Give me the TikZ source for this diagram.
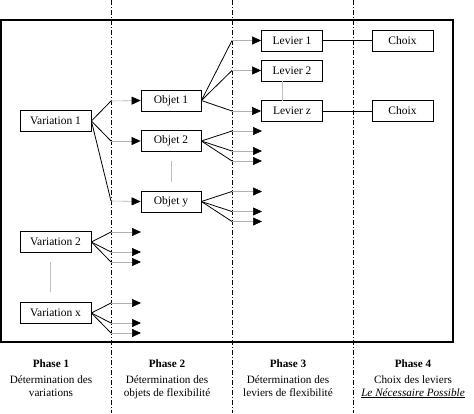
\documentclass[tikz,border=0pt]{standalone}
\usepackage{fontspec}
\setmainfont{Liberation Serif}
\usetikzlibrary{arrows.meta, positioning}

\begin{document}
\begin{tikzpicture}[x=1pt, y=-1pt,
    box/.style={draw, rectangle, inner sep=0pt, minimum height=21pt, line width=0.8pt, font=\fontsize{11.5}{12}\selectfont},
    phaseline/.style={line width=1pt, dash pattern=on 5pt off 2pt on 1pt off 2pt},
    fan/.style={line width=0.8pt},
    tip/.style={gray!60, line width=0.6pt, -{Triangle[length=9pt, width=8pt, color=black]}},
    dots/.style={gray!50, line width=0.5pt},
    phase/.style={inner sep=0pt, font=\bfseries\fontsize{11.2}{13}\selectfont},
    desc/.style={inner sep=0pt, align=center, font=\fontsize{11.2}{13}\selectfont}]
    \useasboundingbox (0,0) rectangle (474,413);

    % phases and frame
    \foreach \x in {111,232,353}
        \draw[phaseline] (\x,0) -- (\x,413);
    \draw[line width=1.6pt] (0.8,20) rectangle (453,342);

    % boxes
    \node[box, minimum width=71pt] (var1) at (55.5,121) {Variation 1};
    \node[box, minimum width=71pt] (var2) at (55.5,242) {Variation 2};
    \node[box, minimum width=71pt] (varx) at (55.5,313) {Variation x};
    \node[box, minimum width=60pt] (obj1) at (171,100.5) {Objet 1};
    \node[box, minimum width=60pt] (obj2) at (171,141) {Objet 2};
    \node[box, minimum width=60pt] (objy) at (171,201.5) {Objet y};
    \node[box, minimum width=61pt] (lev1) at (292,40.5) {Levier 1};
    \node[box, minimum width=61pt] (lev2) at (292,70.5) {Levier 2};
    \node[box, minimum width=61pt] (levz) at (292,111) {Levier z};
    \node[box, minimum width=61pt] (choix1) at (402.5,40.5) {Choix};
    \node[box, minimum width=61pt] (choix2) at (402.5,111) {Choix};

    % fans to boxes
    \foreach \y/\t in {101/obj1, 141/obj2, 201/objy} {
        \coordinate (v1\t) at (111,\y);
        \draw[fan] (var1.east) -- (v1\t);
        \draw[tip] (v1\t) -- (\t.west);
    }
    \foreach \y/\t in {40.5/lev1, 70.5/lev2, 111/levz} {
        \coordinate (o1\t) at (232,\y);
        \draw[fan] (obj1.east) -- (o1\t);
        \draw[tip] (o1\t) -- (\t.west);
    }

    % open fans
    \foreach \n/\x/\y in {var2/111/242, varx/111/313, obj2/232/141, objy/232/201.5}
        \foreach \d [count=\i] in {-10,10,20} {
            \coordinate (\n p\i) at (\x,\y+\d);
            \coordinate (\n e\i) at (\x+30,\y+\d);
            \draw[fan] (\n.east) -- (\n p\i);
            \draw[tip] (\n p\i) -- (\n e\i);
        }

    % choices
    \draw[fan] (lev1.east) -- (choix1.west);
    \draw[fan] (levz.east) -- (choix2.west);

    % ellipsis lines
    \draw[dots] (171,161) -- (171,182);
    \draw[dots] (282,81) -- (282,101);
    \draw[dots] (50,262) -- (50,292);

    % phase labels
    \node[phase] (ph1) at (51,364) {Phase 1};
    \node[phase] (ph2) at (167,364) {Phase 2};
    \node[phase] (ph3) at (288,364) {Phase 3};
    \node[phase] (ph4) at (413,364) {Phase 4};
    \node[desc, below=7pt of ph1] (de1) {Détermination des\\variations};
    \node[desc, below=7pt of ph2] (de2) {Détermination des\\objets de flexibilité};
    \node[desc, below=7pt of ph3] (de3) {Détermination des\\leviers de flexibilité};
    \node[desc, below=7pt of ph4] (de4) {Choix des leviers\\\underline{\textit{Le Nécessaire Possible}}};
\end{tikzpicture}
\end{document}
